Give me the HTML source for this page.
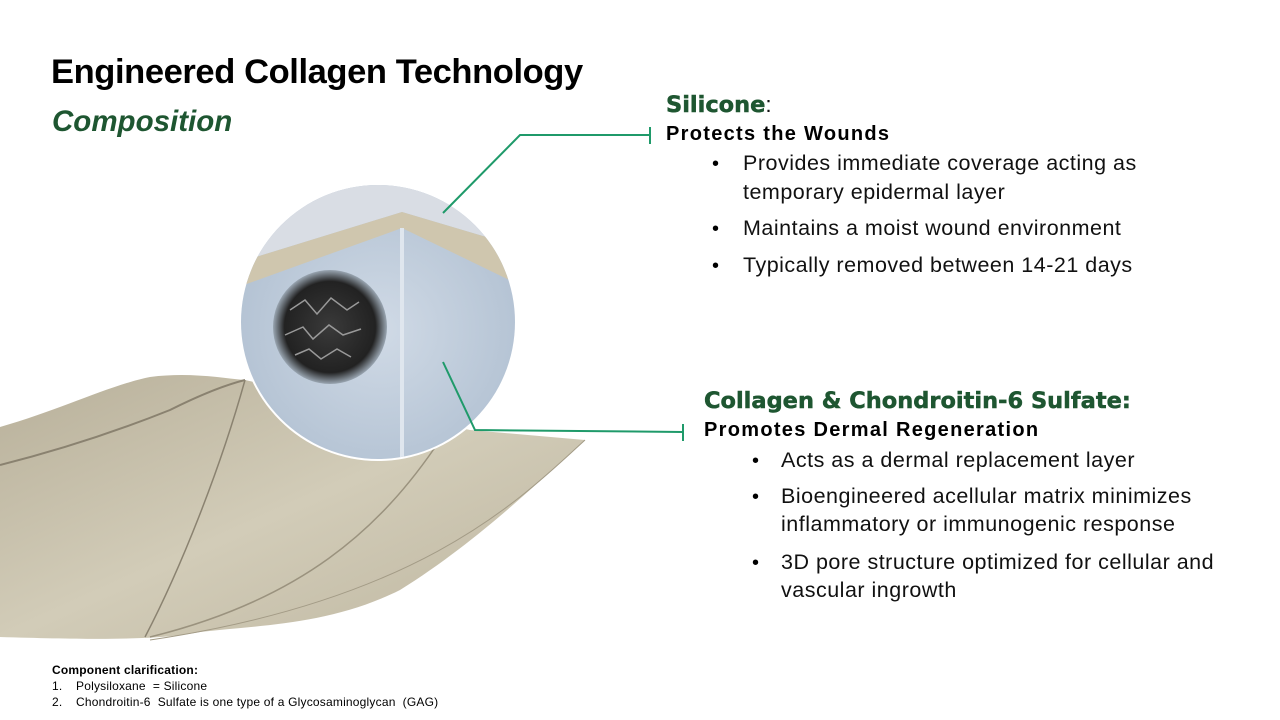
<!DOCTYPE html>
<html><head><meta charset="utf-8"><style>
body{margin:0;width:1280px;height:720px;background:#fff;position:relative;overflow:hidden;font-family:"Liberation Sans",sans-serif;color:#000}
.t{position:absolute;white-space:nowrap;line-height:1}
.g{color:#1e5631;font-family:"DejaVu Sans",sans-serif;font-weight:bold;font-size:22.5px;-webkit-text-stroke:0.5px #1e5631}
.b{font-size:21.5px;color:#111;letter-spacing:0.5px}
.h{font-size:20px;font-weight:bold;letter-spacing:1.3px}
.f{font-size:12px;letter-spacing:0.2px}
.dot{position:absolute;font-size:20px;line-height:1}
</style></head><body>
<svg width="1280" height="720" style="position:absolute;left:0;top:0">
<defs>
<linearGradient id="sh" x1="0" y1="0" x2="1" y2="1"><stop offset="0" stop-color="#b8b09a"/><stop offset="0.5" stop-color="#d2ccb8"/><stop offset="1" stop-color="#bdb59f"/></linearGradient>
<radialGradient id="fo" cx="0.5" cy="0.5" r="0.6"><stop offset="0" stop-color="#d0dae6"/><stop offset="1" stop-color="#adbdcf"/></radialGradient>
<radialGradient id="dk" cx="0.5" cy="0.5" r="0.5"><stop offset="0" stop-color="#3a3a3a"/><stop offset="0.8" stop-color="#222"/><stop offset="1" stop-color="#9aa6b2"/></radialGradient>
<clipPath id="cc"><circle cx="378" cy="322" r="137"/></clipPath>
</defs>
<path d="M0,427 C60,410 110,385 150,377 C190,372 220,378 245,380 L470,430 L585,440 C540,480 480,540 400,590 C330,625 260,625 200,632 C160,640 100,640 0,637 Z" fill="url(#sh)"/>
<path d="M0,465 C60,450 120,430 170,410 C200,395 225,385 245,380" stroke="#8a8270" stroke-width="2" fill="none"/>
<path d="M245,380 C220,470 180,570 145,637" stroke="#8a8270" stroke-width="1.5" fill="none"/>
<path d="M440,440 C380,530 300,600 150,637" stroke="#9a927e" stroke-width="1.5" fill="none"/>
<path d="M585,440 C520,500 420,600 150,640" stroke="#a39b86" stroke-width="1" fill="none"/>
<circle cx="378" cy="322" r="139" fill="#fff"/>
<g clip-path="url(#cc)">
<rect x="230" y="180" width="300" height="300" fill="url(#fo)"/>
<polygon points="230,180 530,180 530,250 402,212 230,265" fill="#d9dde4"/>
<polygon points="230,265 402,212 530,250 530,290 402,228 230,290" fill="#cfc6ae"/>
<line x1="402" y1="228" x2="402" y2="470" stroke="#dfe6ee" stroke-width="4"/>
<circle cx="330" cy="327" r="57" fill="url(#dk)"/>
<path d="M290,310 l15,-10 l12,14 l14,-16 l16,12 l12,-8 M285,335 l18,-8 l10,12 l16,-14 l14,10 l18,-6 M295,355 l14,-6 l12,10 l16,-10 l14,8" stroke="#999" stroke-width="1.5" fill="none"/>
</g>
<g stroke="#1f9a6a" stroke-width="2" fill="none">
<polyline points="443,213 520,135 650,135"/><line x1="650" y1="127" x2="650" y2="144"/>
<polyline points="443,362 475,430 683,432"/><line x1="683" y1="424" x2="683" y2="441"/>
</g>
</svg>
<div class="t" style="left:51px;top:55px;font-size:34.5px;font-weight:bold;letter-spacing:-0.4px">Engineered Collagen Technology</div>
<div class="t" style="left:52px;top:107px;font-size:29.5px;font-weight:bold;font-style:italic;color:#1e5631">Composition</div>
<div class="t g" style="left:666px;top:94px">Silicone<span style="font-weight:normal;color:#111;font-family:'Liberation Sans';-webkit-text-stroke:0">:</span></div>
<div class="t h" style="left:666px;top:124px">Protects the Wounds</div>
<div class="dot" style="left:712px;top:154px">•</div><div class="t b" style="left:743px;top:153px">Provides immediate coverage acting as</div>
<div class="t b" style="left:743px;top:182px">temporary epidermal layer</div>
<div class="dot" style="left:712px;top:219px">•</div><div class="t b" style="left:743px;top:218px">Maintains a moist wound environment</div>
<div class="dot" style="left:712px;top:256px">•</div><div class="t b" style="left:743px;top:255px">Typically removed between 14-21 days</div>
<div class="t g" style="left:704px;top:390px">Collagen &amp; Chondroitin-6 Sulfate:</div>
<div class="t h" style="left:704px;top:420px">Promotes Dermal Regeneration</div>
<div class="dot" style="left:752px;top:451px">•</div><div class="t b" style="left:781px;top:450px">Acts as a dermal replacement layer</div>
<div class="dot" style="left:752px;top:487px">•</div><div class="t b" style="left:781px;top:486px">Bioengineered acellular matrix minimizes</div>
<div class="t b" style="left:781px;top:514px">inflammatory or immunogenic response</div>
<div class="dot" style="left:752px;top:553px">•</div><div class="t b" style="left:781px;top:552px">3D pore structure optimized for cellular and</div>
<div class="t b" style="left:781px;top:580px">vascular ingrowth</div>
<div class="t f" style="left:52px;top:664px;font-weight:bold">Component clarification:</div>
<div class="t f" style="left:52px;top:680px">1.</div><div class="t f" style="left:76px;top:680px">Polysiloxane&nbsp; = Silicone</div>
<div class="t f" style="left:52px;top:696px">2.</div><div class="t f" style="left:76px;top:696px">Chondroitin-6&nbsp; Sulfate is one type of a Glycosaminoglycan&nbsp; (GAG)</div>
</body></html>
